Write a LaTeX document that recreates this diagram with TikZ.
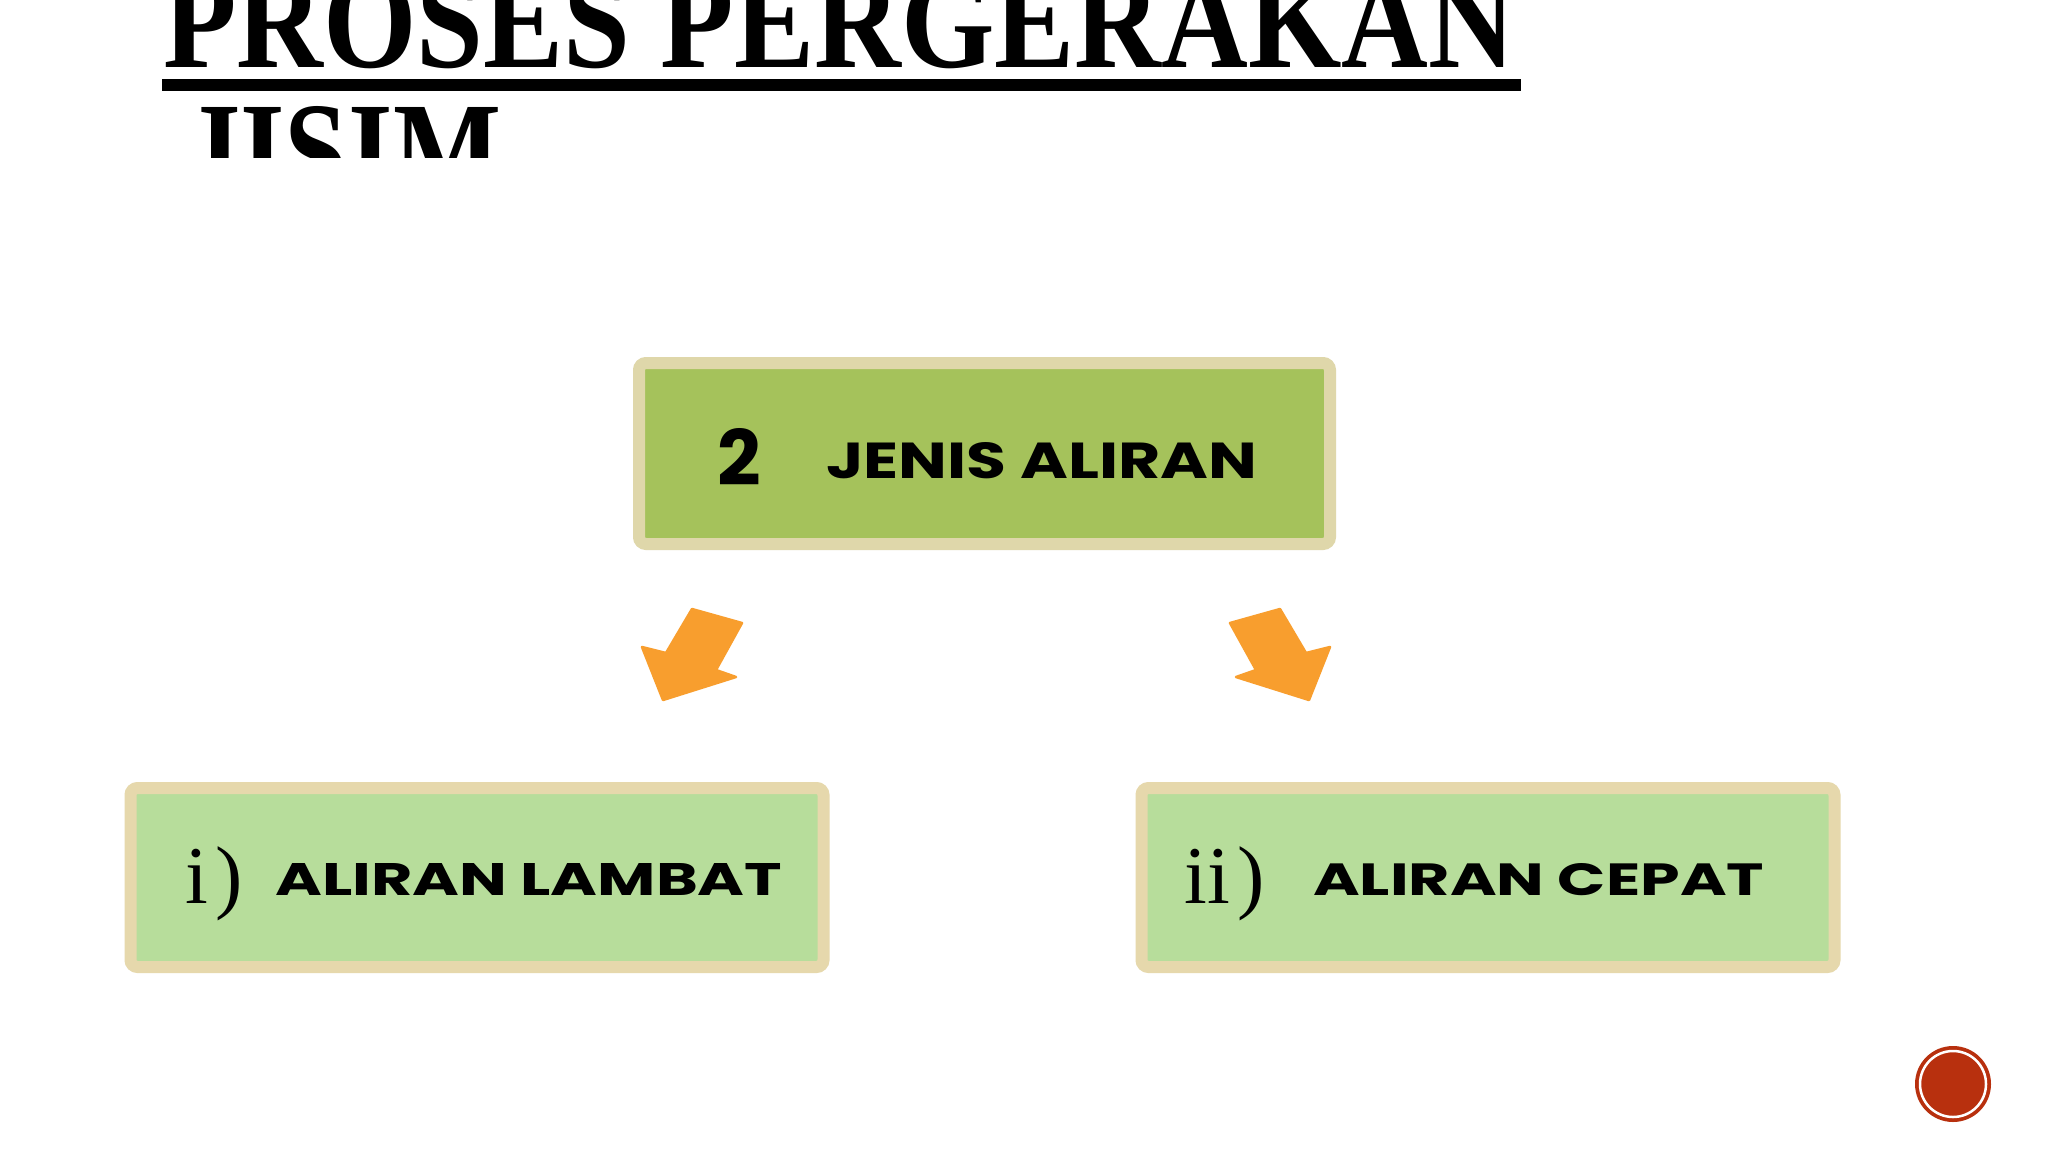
\documentclass[tikz,border=0pt]{standalone}
\usepackage{fontspec}
\usepackage{graphicx}
\newfontfamily\titlefont{Liberation Serif}
\newfontfamily\boxfont{Poppins}
\newfontfamily\numfont{Liberation Serif}
\definecolor{topgreen}{HTML}{A5C25B}
\definecolor{topframe}{HTML}{DFD7AA}
\definecolor{subgreen}{HTML}{B7DD9B}
\definecolor{subframe}{HTML}{E6D8AC}
\definecolor{arroworange}{HTML}{F89E2E}
\definecolor{dotred}{HTML}{B8300E}
\begin{document}
\begin{tikzpicture}[x=1pt,y=-1pt,
  topbox/.style={draw=topframe, fill=topgreen, line width=12pt, rounded corners=7pt,
    minimum width=691pt, minimum height=181pt, inner sep=0pt},
  subbox/.style={draw=subframe, fill=subgreen, line width=12pt, rounded corners=7pt,
    minimum width=693pt, minimum height=179pt, inner sep=0pt},
  txt/.style={inner sep=0pt, anchor=base west},
  fatarrow/.style={fill=arroworange, draw=arroworange, line width=2.5pt, line join=round},
  romnum/.style={txt, font=\numfont\fontsize{82}{84}\selectfont}
]
\clip (0,0) rectangle (2048,1152);
\useasboundingbox (0,0) rectangle (2048,1152);
\fill[white] (0,0) rectangle (2048,1152);

% title
\node[txt] (title1) at (163,67) {\resizebox{1352pt}{91pt}{\titlefont\bfseries PROSES PERGERAKAN}};
\node[fill=black, minimum width=1359pt, minimum height=12pt, inner sep=0pt] (rule) at (841.5,85) {};
\begin{scope}
  \clip (0,100) rectangle (2048,157);
  \node[txt] (title2) at (183,197) {\resizebox{318pt}{91pt}{\titlefont\bfseries JISIM}};
\end{scope}

% boxes
\node[topbox] (top) at (984.5,453.5) {};
\node[subbox] (slow) at (477,877.5) {};
\node[subbox] (fast) at (1488,877.5) {};

\node[txt] (two) at (717,485) {\resizebox{!}{57pt}{\boxfont\bfseries 2}};
\node[txt] (jenis) at (826,478) {\resizebox{431pt}{36pt}{\boxfont\bfseries JENIS ALIRAN}};

\node[romnum] (inum) at (185,903) {i\hspace{8pt})};
\node[txt] (lambat) at (275,895) {\resizebox{507pt}{32pt}{\boxfont\bfseries ALIRAN LAMBAT}};
\node[romnum] (iinum) at (1184,903) {ii\hspace{8pt})};
\node[txt] (cepat) at (1313,895) {\resizebox{451pt}{32pt}{\boxfont\bfseries ALIRAN CEPAT}};

% arrows
\filldraw[fatarrow] (692,609) -- (742,623) -- (716,670) -- (736,677) -- (663,700) -- (642,647) -- (666,653) -- cycle;
\filldraw[fatarrow] (1280,609) -- (1230,623) -- (1256,670) -- (1236,677) -- (1309,700) -- (1330,647) -- (1306,653) -- cycle;

% page marker
\node[circle, fill=dotred, minimum size=76pt, inner sep=0pt] (dot) at (1953,1084) {};
\draw[white, line width=2.5pt] (dot.center) circle[radius=33pt];
\end{tikzpicture}
\end{document}
